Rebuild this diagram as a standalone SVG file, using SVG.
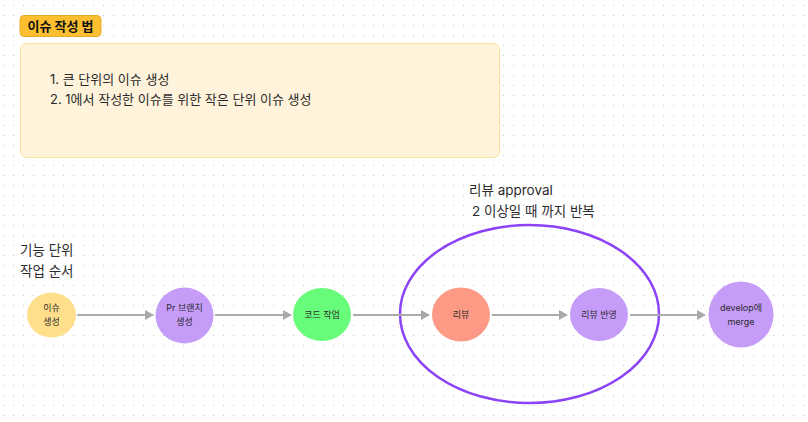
<svg xmlns="http://www.w3.org/2000/svg" width="808" height="422" viewBox="0 0 808 422">
<defs>
<pattern id="dots" x="3" y="5" width="10" height="10" patternUnits="userSpaceOnUse">
<circle cx="0.5" cy="0.5" r="0.6" fill="#c8c8c8"/>
</pattern>
<marker id="arr" markerWidth="10" markerHeight="10" refX="8" refY="5" orient="auto" markerUnits="userSpaceOnUse">
<path d="M0,0 L9,5 L0,10 Z" fill="#a9a9a9"/>
</marker>
<style>
text{font-family:"Inter","Noto Sans CJK KR",sans-serif;fill:#2b2b2b}
.lbl{font-size:13.5px}
.nt{font-size:9px;text-anchor:middle}
.conn line{stroke:#ababab;stroke-width:2;marker-end:url(#arr)}
</style>
</defs>
<rect width="808" height="422" fill="#ffffff"/>
<rect width="808" height="422" fill="url(#dots)"/>
<g id="title">
<rect x="20" y="15.5" width="81" height="21" rx="4" fill="#fdbf30" stroke="#e9ab24" stroke-width="1"/>
<text x="27.5" y="31" style="font-size:13px;font-weight:700;fill:#111">이슈 작성 법</text>
</g>
<g id="note">
<rect x="20.5" y="43.5" width="479" height="114" rx="6" fill="#fff3db" stroke="#fde39a" stroke-width="1"/>
<text x="50" y="84" style="font-size:13px">1. 큰 단위의 이슈 생성</text>
<text x="50" y="104" style="font-size:13px">2. 1에서 작성한 이슈를 위한 작은 단위 이슈 생성</text>
</g>
<g id="label-order">
<text x="20" y="255" class="lbl">기능 단위</text>
<text x="20" y="276" class="lbl">작업 순서</text>
</g>
<g id="label-review">
<text x="469" y="195" class="lbl">리뷰 approval</text>
<text x="472" y="216" class="lbl">2 이상일 때 까지 반복</text>
</g>
<g id="loop">
<ellipse cx="529.5" cy="314" rx="129.5" ry="89" fill="none" stroke="#8c42f6" stroke-width="2.5"/>
</g>
<g class="conn" id="connectors">
<line x1="77" y1="315" x2="153" y2="315"/>
<line x1="215" y1="315" x2="291" y2="315"/>
<line x1="353" y1="315" x2="429" y2="315"/>
<line x1="492" y1="315" x2="567" y2="315"/>
<line x1="630" y1="315" x2="705" y2="315"/>
</g>
<g id="n1">
<ellipse cx="51.5" cy="315" rx="24.5" ry="22.5" fill="#ffdf8c"/>
<text x="51.5" y="311" class="nt">이슈</text>
<text x="51.5" y="325" class="nt">생성</text>
</g>
<g id="n2">
<ellipse cx="184.5" cy="315.5" rx="29" ry="28" fill="#c69cf9"/>
<text x="184.5" y="311" class="nt">Pr 브랜치</text>
<text x="184.5" y="325" class="nt">생성</text>
</g>
<g id="n3">
<ellipse cx="322" cy="314.5" rx="29" ry="26.5" fill="#68fc7b"/>
<text x="322" y="318" class="nt">코드 작업</text>
</g>
<g id="n4">
<ellipse cx="461" cy="314.5" rx="29" ry="27" fill="#fd9a86"/>
<text x="461" y="318" class="nt">리뷰</text>
</g>
<g id="n5">
<ellipse cx="599" cy="314.5" rx="29" ry="26.5" fill="#c69cf9"/>
<text x="599" y="318" class="nt">리뷰 반영</text>
</g>
<g id="n6">
<ellipse cx="741" cy="314.5" rx="32.5" ry="33" fill="#c69cf9"/>
<text x="741" y="311" class="nt">develop에</text>
<text x="741" y="325" class="nt">merge</text>
</g>
</svg>
